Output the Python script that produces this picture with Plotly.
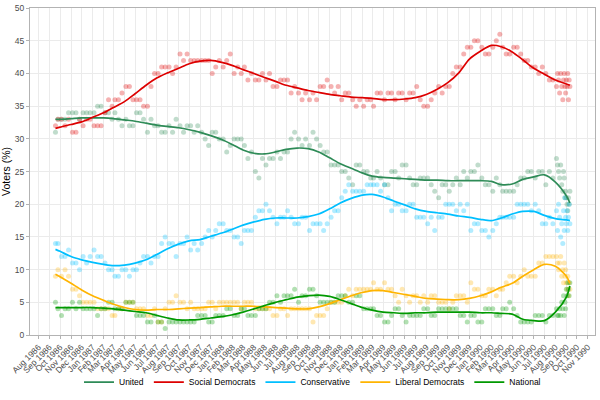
import plotly.graph_objects as go

# ---------------- data ----------------
parties = ["United", "Social Democrats", "Conservative", "Liberal Democrats", "National"]
colors = ["#2E8B57", "#DD0000", "#00BFFF", "#FFB400", "#009900"]

poll_dates = [
    "1986-09-18", "1986-09-25",
    "1986-10-05", "1986-10-15", "1986-10-25",
    "1986-11-05", "1986-11-15", "1986-11-25",
    "1986-12-05", "1986-12-15", "1986-12-25",
    "1987-01-05", "1987-01-15", "1987-01-25",
    "1987-02-05", "1987-02-15", "1987-02-25",
    "1987-03-05", "1987-03-15", "1987-03-25",
    "1987-04-05", "1987-04-15", "1987-04-25",
    "1987-05-05", "1987-05-15", "1987-05-25",
    "1987-06-05", "1987-06-15", "1987-06-25",
    "1987-07-05", "1987-07-15", "1987-07-25",
    "1987-08-05", "1987-08-15", "1987-08-25",
    "1987-09-05", "1987-09-15", "1987-09-25",
    "1987-10-05", "1987-10-15", "1987-10-25",
    "1987-11-05", "1987-11-15", "1987-11-25",
    "1987-12-05", "1987-12-15", "1987-12-25",
    "1988-01-05", "1988-01-15", "1988-01-25",
    "1988-02-05", "1988-02-15", "1988-02-25",
    "1988-03-05", "1988-03-15", "1988-03-25",
    "1988-04-05", "1988-04-15", "1988-04-25",
    "1988-05-05", "1988-05-15", "1988-05-25",
    "1988-06-05", "1988-06-15", "1988-06-25",
    "1988-07-05", "1988-07-15", "1988-07-25",
    "1988-08-05", "1988-08-15", "1988-08-25",
    "1988-09-05", "1988-09-15", "1988-09-25",
    "1988-10-05", "1988-10-15", "1988-10-25",
    "1988-11-05", "1988-11-15", "1988-11-25",
    "1988-12-05", "1988-12-15", "1988-12-25",
    "1989-01-05", "1989-01-15", "1989-01-25",
    "1989-02-05", "1989-02-15", "1989-02-25",
    "1989-03-05", "1989-03-15", "1989-03-25",
    "1989-04-05", "1989-04-15", "1989-04-25",
    "1989-05-05", "1989-05-15", "1989-05-25",
    "1989-06-05", "1989-06-15", "1989-06-25",
    "1989-07-05", "1989-07-15", "1989-07-25",
    "1989-08-05", "1989-08-15", "1989-08-25",
    "1989-09-05", "1989-09-15", "1989-09-25",
    "1989-10-05", "1989-10-15", "1989-10-25",
    "1989-11-05", "1989-11-15", "1989-11-25",
    "1989-12-05", "1989-12-15", "1989-12-25",
    "1990-01-05", "1990-01-15", "1990-01-25",
    "1990-02-05", "1990-02-15", "1990-02-25",
    "1990-03-05", "1990-03-15", "1990-03-25",
    "1990-04-05", "1990-04-15", "1990-04-25",
    "1990-05-05", "1990-05-15", "1990-05-25",
    "1990-06-05", "1990-06-15", "1990-06-25",
    "1990-07-05", "1990-07-15", "1990-07-25",
    "1990-08-04", "1990-08-07", "1990-08-10", "1990-08-13", "1990-08-16", "1990-08-19",
    "1990-08-22", "1990-08-24", "1990-08-26", "1990-08-28", "1990-08-30",
    "1990-09-01", "1990-09-03", "1990-09-05", "1990-09-07", "1990-09-09", "1990-09-11",
]

united_polls = [
    31, 33,
    33, 33, 34, 34, 34, 33, 34, 34, 34,
    34, 35, 35, 34, 34, 33, 34, 33, 32, 33, 32, 32, 34, 34, 33, 31, 33, 32,
    32, 31, 31, 32, 31, 33, 32, 31, 32, 32, 31, 32, 31, 30, 29, 31, 31, 30,
    30, 28, 29, 30, 30, 30, 29, 27, 28, 25, 24, 27, 26, 27, 27, 28, 27, 28,
    28, 30, 31, 30, 29, 30, 29, 31, 30, 29, 28, 28, 26, 26, 26, 25, 25, 24,
    23, 26, 26, 25, 25, 24, 24, 25, 24, 23, 23, 25, 25, 24, 26, 26, 24, 23,
    23, 24, 24, 24, 23, 22, 21, 23, 23, 22, 23, 24, 23, 25, 24, 25, 25, 26,
    24, 23, 23, 22, 24, 23, 22, 22, 22, 22, 23, 24, 24, 25, 25, 24, 25, 25,
    23, 25, 24,
    27, 26, 25, 24, 26, 23, 22, 25, 24, 21, 22,
    21, 20, 19, 21, 20, 22,
]

social_democrats_polls = [
    32, 33,
    33, 32, 33, 31, 31, 33, 32, 33, 33,
    32, 32, 32, 34, 36, 35, 36, 36, 37, 38, 38, 36, 36, 36, 35, 35, 38, 40,
    40, 41, 41, 41, 40, 41, 43, 42, 43, 42, 42, 42, 42, 42, 42, 40, 41, 42,
    41, 42, 43, 40, 41, 40, 41, 39, 40, 39, 39, 40, 39, 40, 38, 38, 39, 39,
    39, 37, 38, 37, 36, 37, 36, 37, 36, 38, 38, 39, 38, 37, 38, 36, 37, 37,
    36, 35, 36, 35, 36, 36, 35, 37, 37, 36, 37, 37, 36, 37, 37, 36, 37, 37,
    38, 36, 35, 35, 36, 37, 38, 37, 38, 38, 40, 41, 41, 43, 44, 44, 45, 45,
    44, 43, 43, 44, 45, 46, 44, 43, 43, 44, 44, 43, 42, 42, 41, 41, 40, 41,
    40, 39, 39,
    38, 40, 39, 37, 40, 38, 36, 39, 40, 38, 37,
    39, 38, 40, 36, 39, 38,
]

conservative_polls = [
    14, 14,
    12, 12, 13, 11, 11, 10, 12, 11, 12,
    13, 12, 12, 11, 10, 10, 9, 9, 10, 10, 9, 10, 10, 11, 12, 12, 11, 12,
    12, 14, 15, 14, 14, 12, 14, 14, 15, 13, 14, 13, 14, 15, 16, 15, 16, 17,
    17, 16, 16, 15, 15, 14, 16, 16, 16, 18, 19, 19, 20, 19, 18, 17, 18, 18,
    19, 18, 17, 17, 18, 18, 16, 17, 17, 17, 16, 17, 18, 19, 19, 21, 22, 23,
    22, 22, 22, 22, 23, 23, 23, 23, 22, 23, 21, 19, 20, 20, 19, 19, 20, 20,
    18, 18, 18, 17, 18, 16, 18, 18, 20, 20, 20, 19, 20, 19, 20, 16, 17, 17,
    16, 16, 15, 16, 17, 18, 18, 18, 18, 18, 20, 20, 20, 20, 19, 20, 19, 17,
    17, 18, 17,
    19, 16, 20, 18, 15, 17, 14, 19, 16, 21, 18,
    17, 19, 16, 18, 20, 17,
]

liberal_democrats_polls = [
    9, 10,
    9, 10, 9, 7, 7, 6, 5, 5, 5,
    5, 4, 4, 4, 4, 3, 3, 4, 4, 5, 5, 5, 4, 4, 4, 3, 3, 4,
    2, 2, 4, 5, 5, 6, 5, 5, 4, 5, 4, 4, 4, 4, 5, 5, 4, 5,
    5, 5, 5, 5, 5, 4, 5, 5, 5, 4, 4, 4, 4, 4, 3, 3, 4, 4,
    3, 4, 4, 4, 4, 4, 4, 2, 3, 3, 3, 4, 5, 5, 5, 5, 6, 7,
    6, 7, 7, 7, 7, 7, 8, 7, 7, 8, 7, 7, 6, 5, 7, 6, 5, 6,
    6, 5, 6, 5, 6, 6, 5, 5, 5, 4, 5, 6, 6, 6, 5, 8, 7, 7,
    6, 6, 7, 7, 6, 7, 7, 8, 9, 9, 8, 9, 10, 9, 9, 9, 11, 11,
    12, 12, 12,
    12, 11, 10, 11, 12, 9, 10, 8, 11, 9, 10,
    8, 7, 9, 6, 8, 7,
]

national_polls = [
    5, 4,
    3, 4, 4, 5, 4, 5, 4, 4, 4,
    4, 3, 4, 4, 5, 5, 4, 4, 4, 5, 5, 5, 3, 3, 3, 2, 2, 3,
    2, 2, 1, 2, 2, 2, 2, 2, 2, 2, 2, 3, 3, 3, 2, 2, 3, 3,
    3, 4, 4, 3, 3, 4, 4, 3, 3, 3, 4, 4, 4, 5, 5, 6, 5, 6,
    6, 6, 7, 5, 6, 6, 7, 7, 6, 5, 5, 5, 5, 5, 6, 6, 6, 5,
    5, 6, 6, 4, 4, 4, 4, 3, 3, 2, 2, 3, 4, 4, 3, 2, 3, 3,
    3, 3, 4, 4, 3, 3, 4, 4, 4, 4, 4, 4, 3, 3, 2, 3, 3, 2,
    2, 4, 4, 4, 3, 3, 4, 4, 5, 4, 3, 2, 2, 2, 2, 3, 3, 3,
    2, 3, 3,
    4, 3, 3, 4, 3, 5, 4, 6, 3, 5, 4,
    7, 6, 8, 7, 6, 8,
]

# smoothed trend lines
trend_dates = [
    "1986-09-18", "1986-10-01", "1986-11-01", "1986-12-01",
    "1987-01-01", "1987-02-01", "1987-03-01", "1987-04-01", "1987-05-01", "1987-06-01",
    "1987-07-01", "1987-08-01", "1987-09-01", "1987-10-01", "1987-11-01", "1987-12-01",
    "1988-01-01", "1988-02-01", "1988-03-01", "1988-04-01", "1988-05-01", "1988-06-01",
    "1988-07-01", "1988-08-01", "1988-09-01", "1988-10-01", "1988-11-01", "1988-12-01",
    "1989-01-01", "1989-02-01", "1989-03-01", "1989-04-01", "1989-05-01", "1989-06-01",
    "1989-07-01", "1989-08-01", "1989-09-01", "1989-10-01", "1989-11-01", "1989-12-01",
    "1990-01-01", "1990-02-01", "1990-03-01", "1990-04-01", "1990-05-01", "1990-06-01",
    "1990-07-01", "1990-08-01", "1990-09-01", "1990-09-11",
]

united_trend = [
    33.0, 33.0, 33.1, 33.2,
    33.2, 33.2, 33.1, 32.9, 32.7, 32.4, 32.1, 31.9, 31.7, 31.4, 31.0, 30.5,
    29.9, 29.1, 28.3, 27.8, 27.7, 28.0, 28.4, 28.6, 28.5, 28.0, 27.1, 26.2,
    25.5, 24.8, 24.3, 24.1, 24.0, 23.9, 23.8, 23.7, 23.7, 23.6, 23.6, 23.6,
    23.6, 23.5, 23.0, 23.1, 23.8, 24.2, 24.5, 23.4, 21.3, 20.2,
]
social_democrats_trend = [
    31.6, 31.8, 32.2, 32.6,
    33.3, 34.0, 34.8, 35.7, 36.9, 38.2, 39.3, 40.1, 40.8, 41.5, 41.9, 42.0,
    41.7, 41.2, 40.6, 40.0, 39.4, 38.8, 38.2, 37.8, 37.4, 37.1, 36.8, 36.6,
    36.4, 36.3, 36.2, 36.0, 36.0, 36.1, 36.3, 36.8, 37.6, 38.6, 40.1, 42.2,
    43.4, 44.3, 44.1, 43.3, 42.1, 40.8, 39.9, 39.0, 38.4, 38.2,
]
conservative_trend = [
    13.1, 12.8, 12.0, 11.5,
    11.1, 10.8, 10.6, 10.7, 11.0, 11.5, 12.3, 13.2, 13.9, 14.4, 14.6, 15.1,
    15.6, 16.2, 16.8, 17.3, 17.7, 17.9, 17.9, 17.9, 18.1, 18.5, 19.3, 20.2,
    20.9, 21.4, 21.5, 21.1, 20.5, 19.9, 19.3, 18.9, 18.7, 18.5, 18.2, 18.0,
    17.7, 17.5, 17.9, 18.5, 18.9, 18.9, 18.3, 17.8, 17.6, 17.5,
]
liberal_democrats_trend = [
    9.3, 8.9, 7.9, 6.9,
    6.0, 5.3, 4.7, 4.2, 3.9, 3.8, 3.9, 3.9, 4.0, 4.1, 4.2, 4.3,
    4.4, 4.4, 4.4, 4.4, 4.3, 4.2, 4.1, 4.0, 4.0, 4.3, 4.8, 5.4,
    6.0, 6.5, 6.8, 6.8, 6.5, 6.2, 5.9, 5.6, 5.5, 5.4, 5.4, 5.6,
    6.0, 6.6, 7.3, 7.9, 9.0, 10.0, 10.8, 10.5, 9.0, 7.9,
]
national_trend = [
    4.2, 4.2, 4.2, 4.2,
    4.2, 4.1, 4.0, 3.8, 3.6, 3.4, 3.0, 2.6, 2.3, 2.3, 2.4, 2.6,
    2.8, 3.1, 3.5, 4.0, 4.5, 5.0, 5.4, 5.8, 6.0, 6.1, 5.9, 5.4,
    4.8, 4.2, 3.8, 3.5, 3.4, 3.3, 3.4, 3.4, 3.5, 3.5, 3.5, 3.5,
    3.4, 3.4, 3.3, 3.2, 2.4, 2.2, 2.2, 3.5, 5.8, 7.5,
]

polls = [united_polls, social_democrats_polls, conservative_polls,
         liberal_democrats_polls, national_polls]
trends = [united_trend, social_democrats_trend, conservative_trend,
          liberal_democrats_trend, national_trend]

# ---------------- figure ----------------
FONT = "Liberation Sans, Arial, sans-serif"
fig = go.Figure()

for name, col, vals in zip(parties, colors, polls):
    fig.add_trace(go.Scatter(
        x=poll_dates, y=vals, mode="markers", name=name,
        marker=dict(color=col, size=5, opacity=0.3, line=dict(width=0)),
        showlegend=False, hoverinfo="skip",
    ))

for name, col, vals in zip(parties, colors, trends):
    fig.add_trace(go.Scatter(
        x=trend_dates, y=vals, mode="lines", name=name,
        line=dict(color=col, width=1.7, shape="spline", smoothing=0.8),
        showlegend=True,
    ))

fig.update_layout(
    width=600, height=400,
    margin=dict(l=26, r=5, t=3, b=63),
    paper_bgcolor="white", plot_bgcolor="white",
    font=dict(family=FONT, size=8.5, color="#4D4D4D"),
    showlegend=True,
    legend=dict(orientation="h", x=0.5, xanchor="center", y=-0.144, yanchor="middle",
                font=dict(family=FONT, size=8.5, color="black"),
                bgcolor="rgba(0,0,0,0)", itemwidth=30, traceorder="normal"),
    xaxis=dict(
        type="date", range=["1986-07-08", "1990-11-21"],
        tick0="1986-08-01", dtick="M1", tickformat="%b %Y", tickangle=-45,
        showgrid=True, gridcolor="#EBEBEB", gridwidth=1,
        ticks="outside", ticklen=3, tickcolor="#B3B3B3",
        showline=True, linecolor="#B3B3B3", linewidth=1, mirror=True,
        tickfont=dict(family=FONT, size=8.5, color="#4D4D4D"),
        ticklabeloverflow="allow",
        zeroline=False,
    ),
    yaxis=dict(
        range=[0, 50.02], tick0=0, dtick=5,
        showgrid=True, gridcolor="#EBEBEB", gridwidth=1,
        ticks="outside", ticklen=3, tickcolor="#B3B3B3",
        showline=True, linecolor="#B3B3B3", linewidth=1, mirror=True,
        tickfont=dict(family=FONT, size=8.5, color="#4D4D4D"),
        ticklabeloverflow="allow",
        title=dict(text="Voters (%)", font=dict(family=FONT, size=10.5, color="black"), standoff=4),
        zeroline=False,
    ),
)

fig.write_html("out.html")
